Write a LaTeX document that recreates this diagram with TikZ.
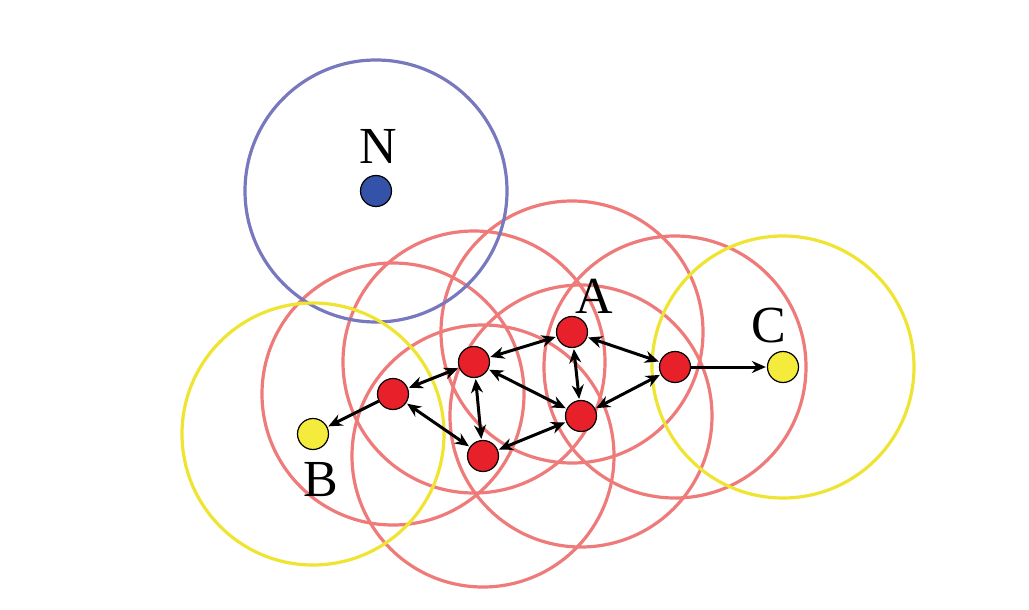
\documentclass[tikz,border=0pt]{standalone}
\usepackage{fontspec}
\setmainfont{Liberation Serif}
\usetikzlibrary{arrows.meta}
\definecolor{rc}{RGB}{238,122,122}
\definecolor{bc}{RGB}{120,120,190}
\definecolor{yc}{RGB}{240,228,50}
\definecolor{rd}{RGB}{232,32,42}
\definecolor{bd}{RGB}{52,82,168}
\definecolor{yd}{RGB}{245,235,60}
\tikzset{
 ring/.style={line width=3.2pt,draw=#1},
 dot/.style={circle,draw=black,line width=1.2pt,fill=#1,minimum size=31pt,inner sep=0pt},
 link/.style={line width=3pt,{Stealth[length=14pt,width=12pt]}-{Stealth[length=14pt,width=12pt]},shorten <=1pt,shorten >=1pt},
 one/.style={line width=3pt,-{Stealth[length=14pt,width=12pt]},shorten >=1pt},
 lab/.style={font=\fontsize{52}{52}\selectfont,inner sep=0pt}
}
\begin{document}
\begin{tikzpicture}[x=1pt,y=-1pt]
\useasboundingbox (0,0) rectangle (1029,610);
\foreach \x/\y in {393/394,474/362,572/332,675/367,581/416,483/456}
  \draw[ring=rc] (\x,\y) circle (131);
\draw[ring=bc] (376,191) circle (131);
\draw[ring=yc] (313,434) circle (131);
\draw[ring=yc] (783,367) circle (131);
\node[dot=rd] (p1) at (393,394) {};
\node[dot=rd] (p2) at (474,362) {};
\node[dot=rd] (a) at (572,332) {};
\node[dot=rd] (p4) at (675,367) {};
\node[dot=rd] (p5) at (581,416) {};
\node[dot=rd] (p6) at (483,456) {};
\node[dot=yd] (b) at (313,434) {};
\node[dot=yd] (c) at (783,367) {};
\node[dot=bd] (n) at (376,191) {};
\foreach \u/\v in {p1/p2,p2/a,p2/p6,p2/p5,a/p5,a/p4,p5/p4,p6/p5,p1/p6}
  \draw[link] (\u) -- (\v);
\draw[one] (p1) -- (b);
\draw[one] (p4) -- (c);
\node[lab] (ln) at (378,146) {N};
\node[lab] (la) at (594,296) {A};
\node[lab] (lb) at (321,480) {B};
\node[lab] (lc) at (769,326) {C};
\end{tikzpicture}
\end{document}
